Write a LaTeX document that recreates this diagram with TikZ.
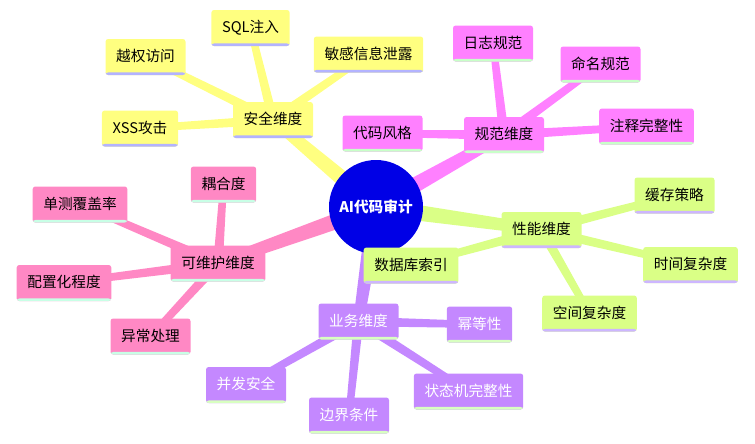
\documentclass[tikz,border=0pt]{standalone}
\usepackage{fontspec}
\usepackage{tikz}
\usetikzlibrary{calc,backgrounds}
\newfontfamily\cjk{Noto Sans CJK SC}

\definecolor{secfill}{HTML}{FFFF80}
\definecolor{secline}{HTML}{B3B3FF}
\definecolor{stdfill}{HTML}{FF80FF}
\definecolor{stdline}{HTML}{C8FFC8}
\definecolor{perffill}{HTML}{DAFF86}
\definecolor{perfline}{HTML}{CDB6FF}
\definecolor{bizfill}{HTML}{C488FF}
\definecolor{bizline}{HTML}{D8FFC0}
\definecolor{mntfill}{HTML}{FF88C4}
\definecolor{mntline}{HTML}{C8FFE6}
\definecolor{ctrfill}{HTML}{0000E6}

\tikzset{
  leaf/.style={rounded corners=2pt, inner xsep=8pt, inner ysep=0pt,
    minimum height=27pt, text height=9pt, text depth=2pt,
    font=\cjk\fontsize{11}{13}\selectfont,
    path picture={\fill[#1] ([yshift=1.9pt]path picture bounding box.south west)
      rectangle (path picture bounding box.south east);}},
  secbox/.style={leaf=secline, fill=secfill},
  stdbox/.style={leaf=stdline, fill=stdfill},
  perfbox/.style={leaf=perfline, fill=perffill},
  bizbox/.style={leaf=bizline, fill=bizfill, text=white},
  mntbox/.style={leaf=mntline, fill=mntfill},
}

\begin{document}
\begin{tikzpicture}[x=0.75pt, y=-0.75pt]
  \useasboundingbox (0,0) rectangle (755,443);
  % centre
  \node[circle, fill=ctrfill, minimum size=70.5pt, inner sep=0pt, text=white,
    font=\cjk\bfseries\fontsize{11}{13}\selectfont] (ctr) at (376,207) {AI代码审计};
  % security
  \node[secbox] (sec) at (273,120) {安全维度};
  \node[secbox] (secsql) at (250.5,28) {SQL注入};
  \node[secbox] (secpriv) at (145.5,57) {越权访问};
  \node[secbox] (secleak) at (368.5,54.5) {敏感信息泄露};
  \node[secbox] (secxss) at (140,128.5) {XSS攻击};
  % standards
  \node[stdbox] (std) at (504,135) {规范维度};
  \node[stdbox] (stdstyle) at (382.5,133.5) {代码风格};
  \node[stdbox] (stdlog) at (493,43.5) {日志规范};
  \node[stdbox] (stdname) at (600.5,64.5) {命名规范};
  \node[stdbox] (stdcmt) at (646.5,126.5) {注释完整性};
  % performance
  \node[perfbox] (perf) at (541.5,230) {性能维度};
  \node[perfbox] (perfcache) at (674.5,195.5) {缓存策略};
  \node[perfbox] (perftime) at (690.5,265) {时间复杂度};
  \node[perfbox] (perfidx) at (411,265.5) {数据库索引};
  \node[perfbox] (perfspace) at (589.5,313.5) {空间复杂度};
  % business
  \node[bizbox] (biz) at (358.5,321.5) {业务维度};
  \node[bizbox] (bizidem) at (479.5,324.5) {幂等性};
  \node[bizbox] (bizconc) at (246,385) {并发安全};
  \node[bizbox] (bizbound) at (349,415.5) {边界条件};
  \node[bizbox] (bizstate) at (468.5,391.5) {状态机完整性};
  % maintainability
  \node[mntbox] (mnt) at (218,263.5) {可维护维度};
  \node[mntbox] (mntcoup) at (223.5,184.5) {耦合度};
  \node[mntbox] (mntunit) at (80,204.5) {单测覆盖率};
  \node[mntbox] (mntconf) at (64,283) {配置化程度};
  \node[mntbox] (mntexc) at (150.5,336.5) {异常处理};

  \begin{pgfonlayer}{background}
    \foreach \c/\col in {sec/secfill, std/stdfill, perf/perffill, biz/bizfill, mnt/mntfill}
      \fill[\col] ($(ctr.center)!6.5pt!90:(\c.center)$) -- ($(ctr.center)!6.5pt!-90:(\c.center)$)
        -- ($(\c.center)!4pt!90:(ctr.center)$) -- ($(\c.center)!4pt!-90:(ctr.center)$) -- cycle;
    \foreach \p/\c/\col in {sec/secsql/secfill, sec/secpriv/secfill, sec/secleak/secfill,
        sec/secxss/secfill, std/stdstyle/stdfill, std/stdlog/stdfill, std/stdname/stdfill,
        std/stdcmt/stdfill, perf/perfcache/perffill, perf/perftime/perffill,
        perf/perfidx/perffill, perf/perfspace/perffill, biz/bizidem/bizfill,
        biz/bizconc/bizfill, biz/bizbound/bizfill, biz/bizstate/bizfill,
        mnt/mntcoup/mntfill, mnt/mntunit/mntfill, mnt/mntconf/mntfill, mnt/mntexc/mntfill}
      \fill[\col] ($(\p.center)!3.6pt!90:(\c.center)$) -- ($(\p.center)!3.6pt!-90:(\c.center)$)
        -- ($(\c.center)!2.6pt!90:(\p.center)$) -- ($(\c.center)!2.6pt!-90:(\p.center)$) -- cycle;
  \end{pgfonlayer}
\end{tikzpicture}
\end{document}
